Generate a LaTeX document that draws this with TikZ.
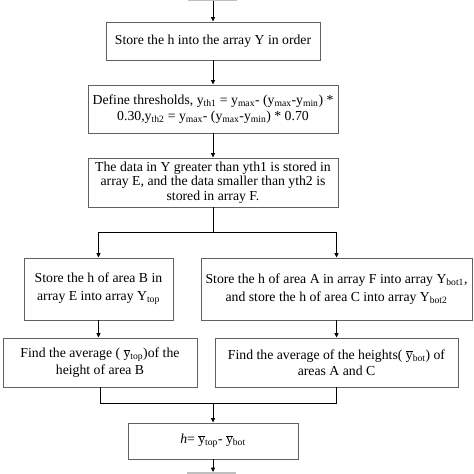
\documentclass[tikz,border=0pt]{standalone}
\usepackage{fontspec}
\setmainfont{Liberation Serif}
\usetikzlibrary{arrows.meta}
\newcommand\ybr{$\overline{\mbox{y}}$}
\newcommand\sbs[1]{\textsubscript{#1}}
\begin{document}
\begin{tikzpicture}[x=1bp,y=-1bp,
  box/.style={draw=black!62,line width=0.9bp,align=center,inner sep=0pt,
    font=\fontsize{13.8}{16}\selectfont},
  arr/.style={line width=0.8bp,-{Triangle[length=4.5bp,width=4bp]}},
  ln/.style={line width=0.8bp}]
\useasboundingbox (0,0) rectangle (474,474);
\fill[black!25] (188,0) rectangle (237,1.5);
\fill[black!25] (187,472) rectangle (236,474);
\coordinate (tp) at (213,1.5);
\coordinate (bt) at (213,472);
\node[box,minimum width=214bp,minimum height=38bp] (b1) at (213,41) {Store the h into the array Y in order};
\node[box,minimum width=250bp,minimum height=48bp,font=\fontsize{13.8}{15.5}\selectfont] (b2) at (213,109) {Define thresholds, y\sbs{th1} = y\sbs{max}- (y\sbs{max}-y\sbs{min}) *\\0.30,y\sbs{th2} = y\sbs{max}- (y\sbs{max}-y\sbs{min}) * 0.70};
\node[box,minimum width=250bp,minimum height=49bp,font=\fontsize{13.8}{14.5}\selectfont] (b3) at (213,182.5) {The data in Y greater than yth1 is stored in\\array E, and the data smaller than yth2 is\\stored in array F.};
\node[box,minimum width=149bp,minimum height=62bp,font=\fontsize{13.8}{18}\selectfont] (b4l) at (98.5,289) {Store the h of area B in\\array E into array Y\sbs{top}};
\node[box,minimum width=271bp,minimum height=62bp,font=\fontsize{13.8}{18}\selectfont] (b4r) at (336.5,289) {Store the h of area A in array F into array Y\sbs{bot1},\\and store the h of area C into array Y\sbs{bot2}};
\node[box,minimum width=194bp,minimum height=49bp,font=\fontsize{13.8}{16.5}\selectfont] (b5l) at (100,362.5) {Find the average ( \ybr\sbs{top})of the\\height of area B};
\node[box,minimum width=243bp,minimum height=49bp,font=\fontsize{13.8}{16.5}\selectfont] (b5r) at (336.5,362.5) {Find the average of the heights( \ybr\sbs{bot}) of\\areas A and C};
\node[box,minimum width=170bp,minimum height=36bp] (b6) at (213,441) {\textit{h}= \ybr\sbs{top}- \ybr\sbs{bot}};
\coordinate (br) at (213,232);
\coordinate (mg) at (213,403);
\draw[arr] (tp) -- (b1);
\draw[arr] (b1) -- (b2);
\draw[arr] (b2) -- (b3);
\draw[ln] (b3) -- (br);
\draw[arr] (br) -| (b4l);
\draw[arr] (br) -| (b4r);
\draw[arr] (b4l) -- (b5l.north -| b4l.south);
\draw[arr] (b4r) -- (b5r.north -| b4r.south);
\draw[ln] (b5l) |- (mg);
\draw[ln] (b5r) |- (mg);
\draw[arr] (mg) -- (b6);
\draw[arr] (b6) -- (bt);
\end{tikzpicture}
\end{document}
